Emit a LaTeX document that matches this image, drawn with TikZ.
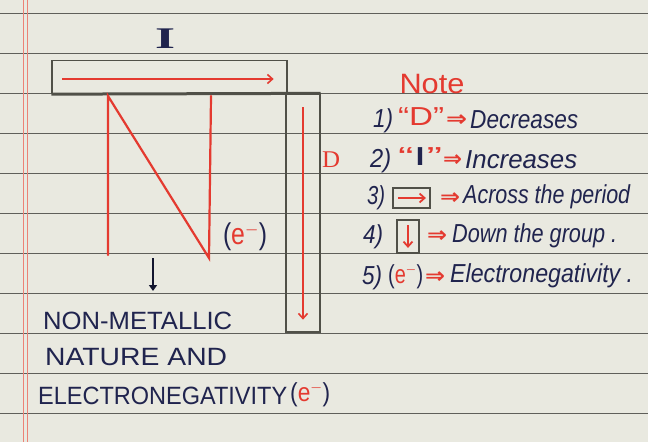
\documentclass[tikz,border=0pt]{standalone}
\usepackage{fontspec}
\setmainfont{Liberation Sans}
\newfontfamily\serifhand{Liberation Serif}
\newfontfamily\symbfont{DejaVu Sans}
\usepackage{graphicx}
\usetikzlibrary{arrows.meta}
\definecolor{paper}{RGB}{233,233,224}
\definecolor{ink}{RGB}{32,36,78}
\definecolor{pen}{RGB}{228,58,48}
\definecolor{rulecol}{RGB}{95,95,90}
\definecolor{margincol}{RGB}{236,130,118}
\definecolor{boxline}{RGB}{80,80,72}
\newcommand{\fitw}[2]{\resizebox{#1}{\height}{#2}}
\newcommand{\impl}{{\symbfont\bfseries ⇒}}
\tikzset{
  ntxt/.style={inner sep=0pt, anchor=west, text=ink, font=\fontsize{26}{26}\selectfont\itshape},
  captxt/.style={inner sep=0pt, anchor=west, text=ink, font=\fontsize{25}{25}\selectfont},
  ptxt/.style={inner sep=0pt, anchor=west, text=pen, font=\fontsize{26}{26}\selectfont},
  imp/.style={inner sep=0pt, anchor=west, text=pen, font=\fontsize{22}{22}\selectfont},
  framebox/.style={draw=boxline, line width=1.3pt, inner sep=0pt},
  smallbox/.style={draw=boxline, line width=1.8pt, inner sep=0pt},
  penline/.style={draw=pen, line width=2.2pt, line cap=round},
  penarrow/.style={draw=pen, line width=1.6pt, -{Straight Barb[length=5pt,width=9pt]}},
  inkarrow/.style={draw=ink!60!black, line width=2.4pt, -{Triangle[length=6pt,width=8pt]}},
  ruled/.style={draw=rulecol, line width=1pt},
  marginline/.style={draw=margincol, line width=0.9pt}
}
\begin{document}
\begin{tikzpicture}[x=1pt,y=-1pt]
\useasboundingbox (0,0) rectangle (648,442);
\fill[paper] (0,0) rectangle (648,442);
% ruled paper
\foreach \yy in {13.5,53.5,...,413.5} \draw[ruled] (0,\yy) -- (648,\yy);
\draw[marginline] (23,0) -- (23,442);
\draw[marginline] (27,0) -- (27,442);

% top label I
\node[inner sep=0pt, text=ink, font=\fontsize{30}{30}\selectfont\serifhand\bfseries] (lblI) at (165,39) {\fitw{20pt}{I}};

% horizontal box with arrow
\node[framebox, minimum width=235pt, minimum height=33pt] (hbox) at (169.5,77) {};
\draw[penarrow] ([xshift=11pt,yshift=-2pt]hbox.west) -- ([xshift=-14pt,yshift=-2pt]hbox.east);

% vertical box with arrow
\node[framebox, minimum width=34pt, minimum height=238pt] (vbox) at (303,213) {};
\draw[penarrow] ([yshift=-14pt]vbox.north) -- ([yshift=13pt]vbox.south);
\draw[boxline, line width=3pt] (hbox.south west) -- (vbox.north east);

% red D beside vertical box
\node[inner sep=0pt, text=pen, font=\fontsize{24}{24}\selectfont\serifhand] (lblD) at (331,160) {\fitw{18pt}{D}};

% the N
\coordinate (nA) at (108,255);
\coordinate (nB) at (108,96);
\coordinate (nC) at (209,258);
\coordinate (nD) at (211,96);
\draw[penline] (nA) -- (nB) -- (nC) -- (nD);

% (e-) beside N
\node[inner sep=0pt, font=\fontsize{30}{30}\selectfont] (eN) at (245,237) {\fitw{44pt}{\textcolor{ink}{(}\textcolor{pen}{e$^{-}$}\textcolor{ink}{)}}};

% small arrow down
\coordinate (dn1) at (153,258);
\coordinate (dn2) at (153,291);
\draw[inkarrow] (dn1) -- (dn2);

% left caption
\node[captxt] (cap1) at (43,321) {\fitw{189pt}{NON-METALLIC}};
\node[captxt] (cap2) at (45,357) {\fitw{182pt}{NATURE AND}};
\node[captxt] (cap3) at (38,396) {\fitw{249pt}{ELECTRONEGATIVITY}};
\node[inner sep=0pt, anchor=west, font=\fontsize{26}{26}\selectfont] (cap4) at (290,395) {\fitw{40pt}{\textcolor{ink}{(}\textcolor{pen}{e$^{-}$}\textcolor{ink}{)}}};

% Note
\node[inner sep=0pt, text=pen, font=\fontsize{28}{28}\selectfont] (note) at (432,84) {\fitw{65pt}{Note}};

% item 1
\node[ntxt] (n1) at (373,121) {\fitw{20pt}{1)}};
\node[ptxt] (q1) at (398,117) {\fitw{46pt}{“D”}};
\node[imp] (i1) at (446,121) {\fitw{21pt}{\impl}};
\node[ntxt] (w1) at (470,120) {\fitw{108pt}{Decreases}};

% item 2
\node[ntxt] (n2) at (370,161) {\fitw{21pt}{2)}};
\node[ptxt] (q2) at (398,157) {\fitw{44pt}{\textcolor{pen}{“}\textcolor{ink}{I}\textcolor{pen}{”}}};
\node[imp] (i2) at (443,161) {\fitw{19pt}{\impl}};
\node[ntxt] (w2) at (465,160) {\fitw{112pt}{Increases}};

% item 3
\node[ntxt] (n3) at (367,198) {\fitw{18pt}{3)}};
\node[smallbox, minimum width=37pt, minimum height=20pt] (b3) at (411.5,198) {};
\draw[penarrow, line width=1.8pt] ([xshift=6pt]b3.west) -- ([xshift=-5pt]b3.east);
\node[imp] (i3) at (440,199) {\fitw{20pt}{\impl}};
\node[ntxt] (w3) at (463,197) {\fitw{167pt}{Across the period}};

% item 4
\node[ntxt] (n4) at (363,237) {\fitw{20pt}{4)}};
\node[smallbox, minimum width=22pt, minimum height=33pt] (b4) at (408,236.5) {};
\draw[penarrow, line width=1.8pt] ([yshift=-6pt]b4.north) -- ([yshift=6pt]b4.south);
\node[imp] (i4) at (427,237) {\fitw{20pt}{\impl}};
\node[ntxt] (w4) at (452,236) {\fitw{165pt}{Down the group .}};

% item 5
\node[ntxt] (n5) at (362,278) {\fitw{20pt}{5)}};
\node[inner sep=0pt, anchor=west, font=\fontsize{26}{26}\selectfont] (e5) at (388,277) {\fitw{35pt}{\textcolor{ink}{(}\textcolor{pen}{e$^{-}$}\textcolor{ink}{)}}};
\node[imp] (i5) at (425,278) {\fitw{20pt}{\impl}};
\node[ntxt] (w5) at (450,276) {\fitw{183pt}{Electronegativity .}};
\end{tikzpicture}
\end{document}
